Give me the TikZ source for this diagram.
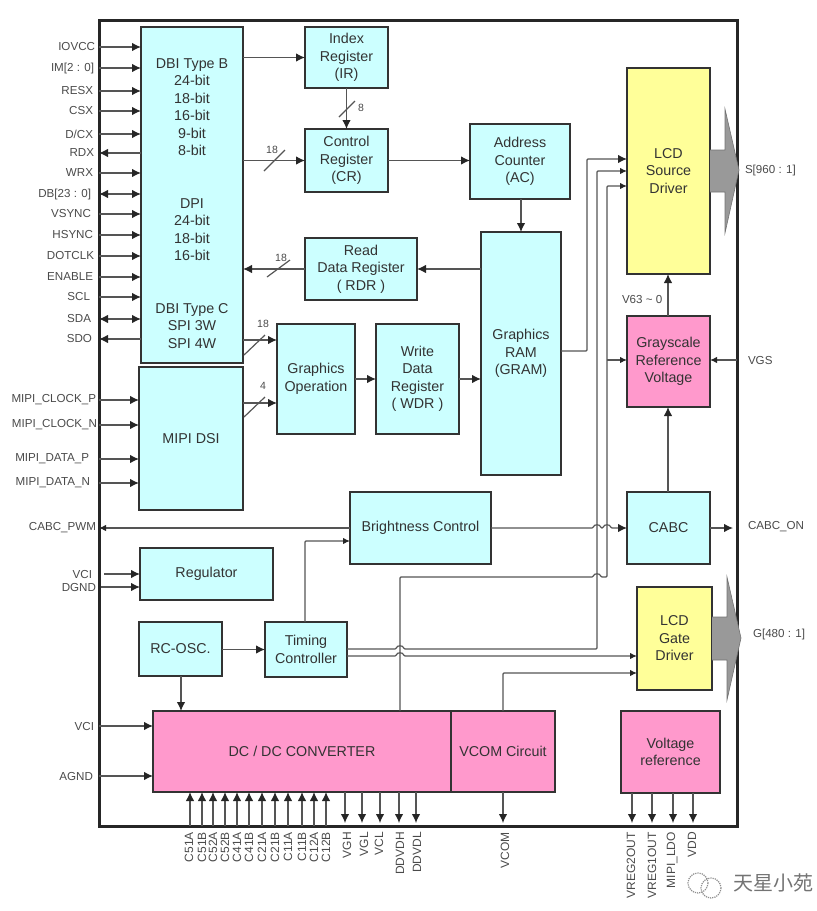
\documentclass[tikz,border=0pt]{standalone}
\usepackage{fontspec}
\setmainfont{Liberation Sans}
\newfontfamily\cjkfont{Noto Sans CJK SC}
\usetikzlibrary{arrows.meta,calc}
\definecolor{bcyan}{HTML}{CCFFFF}
\definecolor{byellow}{HTML}{FFFF99}
\definecolor{bpink}{HTML}{FF99CC}
\definecolor{edge}{HTML}{333333}
\definecolor{wire}{HTML}{555555}
\definecolor{txt}{HTML}{333333}
\definecolor{pintxt}{HTML}{4A4A4A}
\tikzset{
  blockbox/.style={draw=edge,line width=1.5pt,inner sep=0pt,outer sep=0pt,align=center,text=txt,
    font=\fontsize{14.3}{17.5}\selectfont},
  cyanbox/.style={blockbox,fill=bcyan},
  yellowbox/.style={blockbox,fill=byellow},
  pinkbox/.style={blockbox,fill=bpink},
  pinlabel/.style={inner sep=0pt,outer sep=0pt,text=pintxt,font=\fontsize{11.6}{14}\selectfont},
  leftpin/.style={pinlabel,anchor=east},
  sidepin/.style={pinlabel,anchor=west},
  botpin/.style={pinlabel,rotate=90,anchor=east,font=\fontsize{12}{14}\selectfont},
  buslabel/.style={inner sep=0pt,text=pintxt,font=\fontsize{10.5}{12}\selectfont},
  wirel/.style={draw=wire,line width=1.2pt,rounded corners=1pt},
  arr/.style={wirel,-{Latex[length=9pt,width=8.5pt,color=black!85]}},
  arrs/.style={wirel,-{Latex[length=7pt,width=6.5pt,color=black!85]}},
  darr/.style={wirel,{Latex[length=9pt,width=8.5pt,color=black!85]}-{Latex[length=9pt,width=8.5pt,color=black!85]}},
  slash/.style={draw=wire,line width=1.2pt},
  bigarrow/.style={draw=black!55,line width=.6pt,fill=black!40},
}
\newcommand{\blk}[7]{%
  \pgfmathsetmacro{\blkw}{#4-#2}\pgfmathsetmacro{\blkh}{#5-#3}%
  \node[#6,minimum width=\blkw pt,minimum height=\blkh pt,anchor=north west] (#1) at (#2,#3) {#7};}
\begin{document}
\begin{tikzpicture}[x=1pt,y=-1pt]
\useasboundingbox (0,0) rectangle (817,911);
% frame
\node[draw=black!85,line width=3pt,inner sep=0pt,outer sep=0pt,minimum width=638pt,minimum height=806pt,anchor=north west] (frame) at (99,20) {};
% blocks
\blk{dbi}{141}{27}{243}{363}{cyanbox}{}
\blk{mipi}{139}{367}{243}{510}{cyanbox}{MIPI DSI}
\node[inner sep=0pt,align=center,text=txt,font=\fontsize{14.3}{17.5}\selectfont] (dbitext) at (192,203.5) {DBI Type B\\24-bit\\18-bit\\16-bit\\9-bit\\8-bit\\[35pt]DPI\\24-bit\\18-bit\\16-bit\\[35pt]DBI Type C\\SPI 3W\\SPI 4W};
\blk{ir}{305}{27}{388}{88}{cyanbox}{Index\\Register\\(IR)}
\blk{cr}{305}{129}{388}{192}{cyanbox}{Control\\Register\\(CR)}
\blk{rdr}{305}{238}{417}{300}{cyanbox}{Read\\Data Register\\( RDR )}
\blk{gop}{277}{324}{355}{434}{cyanbox}{Graphics\\Operation}
\blk{wdr}{376}{324}{459}{434}{cyanbox}{Write\\Data\\Register\\( WDR )}
\blk{ac}{470}{124}{570}{199}{cyanbox}{Address\\Counter\\(AC)}
\blk{gram}{481}{232}{561}{475}{cyanbox}{Graphics\\RAM\\(GRAM)}
\blk{src}{627}{68}{710}{274}{yellowbox}{LCD\\Source\\Driver}
\blk{gray}{627}{316}{710}{407}{pinkbox}{Grayscale\\Reference\\Voltage}
\blk{cabc}{627}{492}{710}{564}{cyanbox}{CABC}
\blk{bright}{350}{492}{491}{564}{cyanbox}{Brightness Control}
\blk{gate}{637}{587}{712}{690}{yellowbox}{LCD\\Gate\\Driver}
\blk{reg}{140}{548}{273}{600}{cyanbox}{Regulator}
\blk{osc}{139}{622}{222}{676}{cyanbox}{RC-OSC.}
\blk{timing}{265}{622}{347}{677}{cyanbox}{Timing\\Controller}
\blk{dc}{153}{711}{451}{792}{pinkbox}{DC / DC CONVERTER}
\blk{vcom}{451}{711}{555}{792}{pinkbox}{VCOM Circuit}
\blk{vref}{621}{711}{720}{793}{pinkbox}{Voltage\\reference}
% left pins
\foreach \n/\t/\x/\y/\k in {
  iovcc/IOVCC/95/47/arr, im/{IM[2 : 0]}/94/68/arr, resx/RESX/93/91/arr, csx/CSX/93/111/arr,
  dcx/D\slash CX/93/134/arr, wrx/WRX/93/173/arr, vsync/VSYNC/91/214/arr, hsync/HSYNC/93/235/arr,
  dotclk/DOTCLK/94/256/arr, enable/ENABLE/93/277/arr, scl/SCL/90/297/arr}{
  \node[leftpin] (\n) at (\x,\y) {\t};
  \draw[\k] (frame.west |- 0,\y) -- (dbi.west |- 0,\y);
}
\node[leftpin] (rdx) at (94,153) {RDX};
\draw[arr] (dbi.west |- rdx) -- (frame.west |- rdx);
\node[leftpin] (sdo) at (92,339) {SDO};
\draw[arr] (dbi.west |- sdo) -- (frame.west |- sdo);
\node[leftpin] (db) at (91,194) {DB[23 : 0]};
\draw[darr] (frame.west |- db) -- (dbi.west |- db);
\node[leftpin] (sda) at (91,319) {SDA};
\draw[darr] (frame.west |- sda) -- (dbi.west |- sda);
\foreach \n/\t/\x/\y in {mcp/MIPI\_CLOCK\_P/96/400, mcn/MIPI\_CLOCK\_N/97/425, mdp/MIPI\_DATA\_P/89/459, mdn/MIPI\_DATA\_N/90/483}{
  \node[leftpin] (\n) at (\x,\y) {\t};
  \draw[arr] (frame.west |- 0,\y) -- (mipi.west |- 0,\y);
}
\node[leftpin] (pwm) at (96,528) {CABC\_PWM};
\draw[arrs] (bright.west |- pwm) -- (frame.west |- pwm);
\node[leftpin] (vci1) at (92,574) {VCI};
\node[leftpin] (dgnd) at (96,587) {DGND};
\coordinate (vci1s) at (104,574);
\coordinate (dgnds) at (101,587);
\draw[arr] (vci1s) -- (reg.west |- vci1s);
\draw[arr] (dgnds) -- (reg.west |- dgnds);
\node[leftpin] (vci2) at (94,726) {VCI};
\node[leftpin] (agnd) at (93,776) {AGND};
\draw[arr] (frame.west |- vci2) -- (dc.west |- vci2);
\draw[arr] (frame.west |- agnd) -- (dc.west |- agnd);
% internal connectors
\draw[arr] (dbi.east |- ir.west) -- (ir.west);
\draw[arr] (ir.south) -- (cr.north);
\draw[slash] (339,117) -- (355,101);
\node[buslabel] (b8) at (361,108) {8};
\draw[arr] (dbi.east |- cr.west) -- (cr.west);
\draw[slash] (264,171) -- (285,150);
\node[buslabel] (b18a) at (272,150) {18};
\draw[arr] (rdr.west) -- (dbi.east |- rdr.west);
\draw[slash] (267,277) -- (290,260);
\node[buslabel] (b18b) at (281,258) {18};
\draw[arr] (dbi.east |- 0,340) -- (gop.west |- 0,340);
\draw[slash] (244,355) -- (265,335);
\node[buslabel] (b18c) at (263,324) {18};
\draw[arr] (mipi.east |- 0,403) -- (gop.west |- 0,403);
\draw[slash] (244,417) -- (265,397);
\node[buslabel] (b4) at (263,386) {4};
\draw[arr] (gop.east |- 0,379) -- (wdr.west |- 0,379);
\draw[arr] (wdr.east |- 0,379) -- (gram.west |- 0,379);
\draw[arr] (cr.east) -- (ac.west |- cr.east);
\draw[arr] (ac.south -| gram.north) -- (gram.north);
\draw[arr] (gram.west |- rdr.east) -- (rdr.east);
% to source driver
\draw[arr] (gram.east |- 0,351) -- (587,351) -- (587,159) -- (src.west |- 0,159);
\draw[arrs] (timing.east |- 0,649) -- (396,649) .. controls (397,645) and (403,645) .. (404,649) -- (597,649) -- (597,171) -- (src.west |- 0,171);
\draw[arrs] (dc.north -| 400,0) -- (400,577) -- (593,577) .. controls (594,573) and (600,573) .. (601,577) -- (607,577) -- (607,186) -- (src.west |- 0,186);
\draw[arrs] (607,360) -- (gray.west |- 0,360);
\draw[arr] (gray.north -| 668,0) -- (src.south -| 668,0);
\draw[arr] (cabc.north -| 668,0) -- (gray.south -| 668,0);
\coordinate (vgss) at (737,360);
\draw[arrs] (vgss) -- (gray.east |- vgss);
\node[sidepin] (vgs) at (748,361) {VGS};
\node[pinlabel,anchor=west] (v63) at (622,300) {V63 \textasciitilde\ 0};
% brightness / cabc
\draw[arr] (bright.east) -- (593,528) .. controls (594,524) and (600,524) .. (601,528) -- (603,528) .. controls (604,524) and (610,524) .. (611,528) -- (cabc.west |- bright.east);
\node[sidepin] (cabcon) at (748,527) {CABC\_ON};
\coordinate (cabcend) at (733,528);
\draw[arr] (cabc.east |- cabcend) -- (cabcend);
\draw[arrs] (timing.north -| 305,0) -- (305,541) -- (bright.west |- 0,541);
% timing / osc / gate
\draw[arr] (osc.east |- timing.west) -- (timing.west);
\draw[arr] (osc.south -| 181,0) -- (dc.north -| 181,0);
\draw[arrs] (timing.east |- 0,656) -- (396,656) .. controls (397,652) and (403,652) .. (404,656) -- (gate.west |- 0,656);
\draw[arrs] (vcom.north -| 503,0) -- (503,673) -- (gate.west |- 0,673);
% bottom pins
\foreach \n/\t/\x/\l in {a/C51A/190/189, b/C51B/202/202, c/C52A/213/213, d/C52B/225/225, e/C41A/237/237, f/C41B/249/249,
  g/C21A/262/262, h/C21B/275/275, i/C11A/288/288, j/C11B/302/302, k/C12A/314/314, l/C12B/326/326}{
  \node[botpin] (cap\n) at (\l,832) {\t};
  \draw[arr] (frame.south -| \x,0) -- (dc.south -| \x,0);
}
\foreach \n/\t/\x/\l in {vgh/VGH/345/347, vgl/VGL/362/364, vcl/VCL/380/379, ddh/DDVDH/399/400, ddl/DDVDL/416/417}{
  \node[botpin] (\n) at (\l,832) {\t};
  \draw[arr,shorten >=3pt] (dc.south -| \x,0) -- (frame.south -| \x,0);
}
\node[botpin] (vcomp) at (505,832) {VCOM};
\draw[arr,shorten >=3pt] (vcom.south -| 503,0) -- (frame.south -| 503,0);
\foreach \n/\t/\x/\l in {vr2/VREG2OUT/632/631, vr1/VREG1OUT/652/652, ldo/MIPI\_LDO/673/672, vdd/VDD/693/692}{
  \node[botpin] (\n) at (\l,832) {\t};
  \draw[arr,shorten >=3pt] (vref.south -| \x,0) -- (frame.south -| \x,0);
}
% big arrows
\draw[bigarrow] (710,150) -- (725,150) -- (725,109) -- (739,170) -- (725,233) -- (725,192) -- (710,192);
\draw[bigarrow] (712,617) -- (727,617) -- (727,577) -- (741,638) -- (727,700) -- (727,660) -- (712,660);
\node[sidepin] (srcout) at (745,170) {S[960 : 1]};
\node[sidepin] (gateout) at (753,634) {G[480 : 1]};
% watermark
\draw[black!45,densely dotted,line width=1.2pt] (698,883) circle (10);
\draw[black!45,densely dotted,line width=1.2pt] (711,888) circle (10);
\node[inner sep=0pt,text=black!55,font=\cjkfont\fontsize{20}{22}\selectfont] (mark) at (773,883) {天星小苑};
\end{tikzpicture}
\end{document}
